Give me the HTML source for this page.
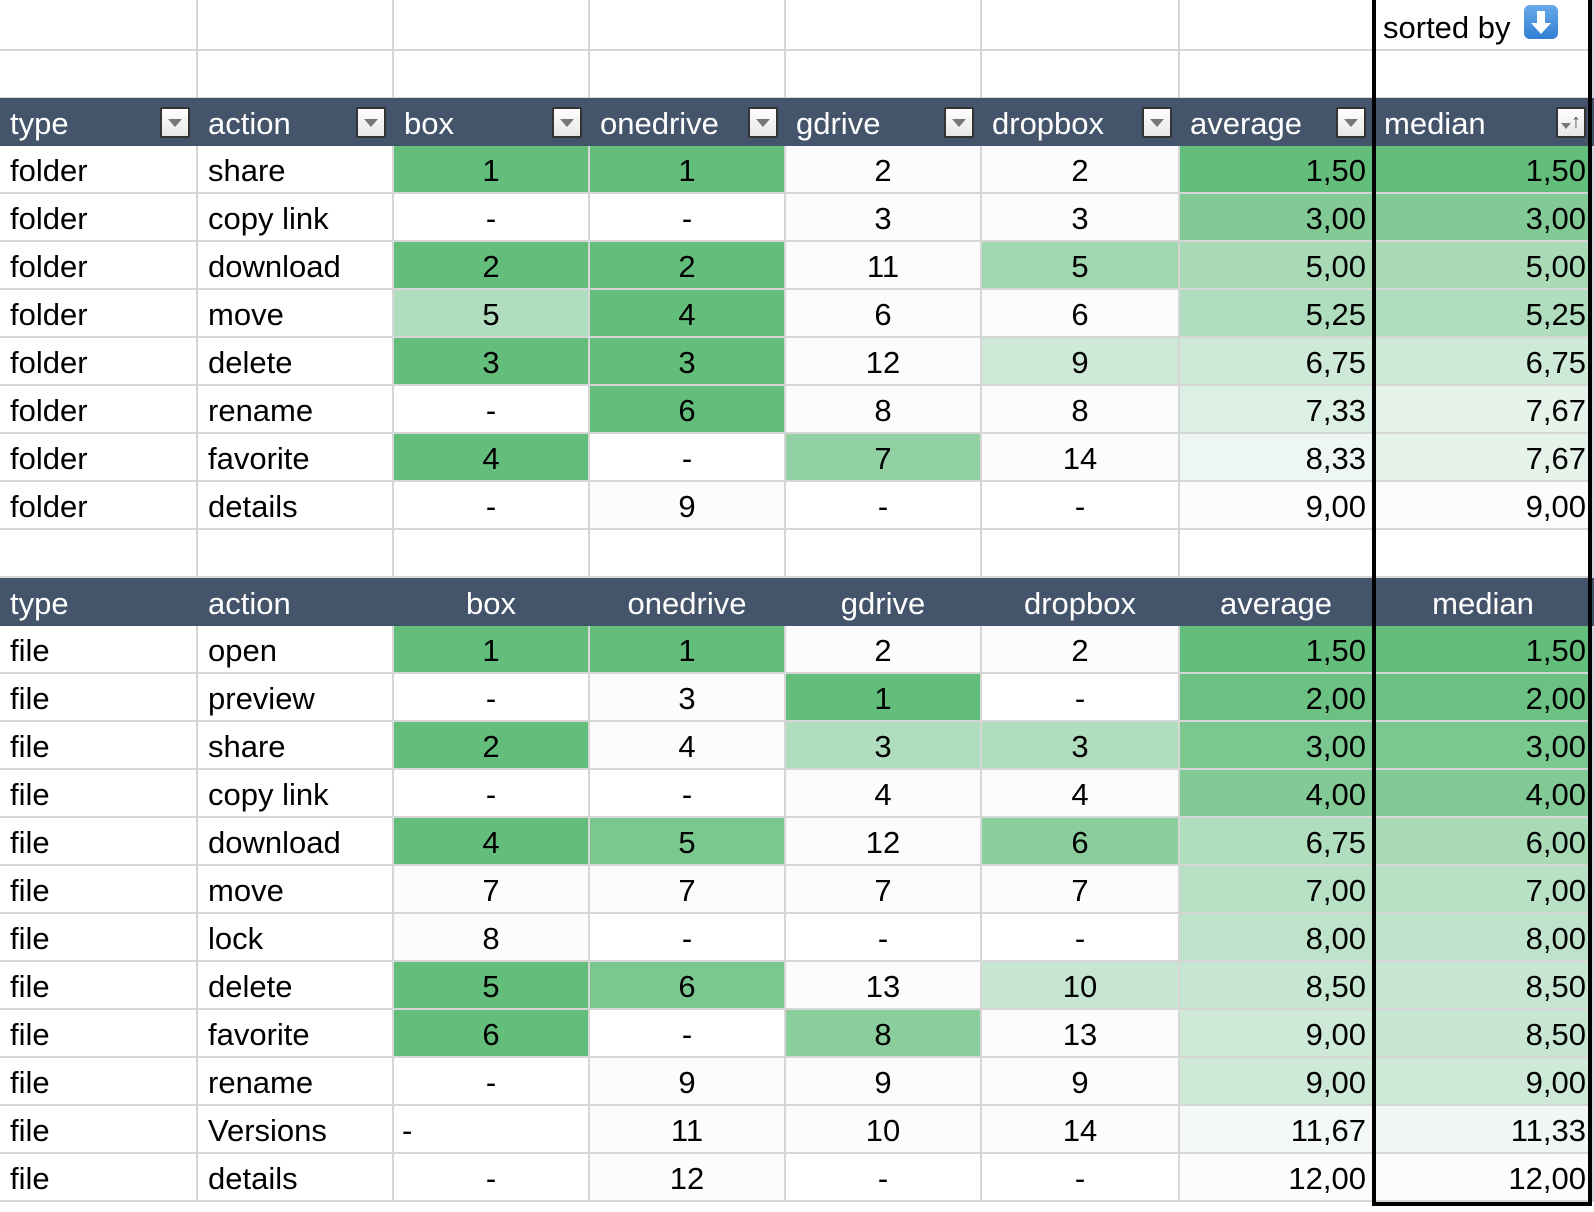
<!DOCTYPE html>
<html><head><meta charset="utf-8">
<style>
body{margin:0;width:1594px;height:1212px;background:#fff;overflow:hidden;font-family:"Liberation Sans",sans-serif;}
#sheet{position:absolute;left:0;top:0;width:1594px;height:1212px;}
.c{position:absolute;box-sizing:border-box;border-right:2px solid #d6d6d6;border-bottom:2px solid #d6d6d6;font-size:31px;line-height:50px;color:#000;white-space:nowrap;overflow:hidden;}
.h{background:#44546a;color:#fff;border-color:#44546a;}
.fb{position:absolute;width:30px;height:31px;top:9px;right:6px;box-sizing:border-box;border:2px solid #333;background:linear-gradient(#fff,#e6e6e6);border-radius:2px;}
.fb:after{content:"";position:absolute;left:6px;top:10px;border-left:7px solid transparent;border-right:7px solid transparent;border-top:8px solid #777;}
.fb.sort:after{left:3px;top:14px;border-left:5px solid transparent;border-right:5px solid transparent;border-top:6px solid #777;}
.fb.sort span{position:absolute;left:13px;top:0;font-size:20px;line-height:26px;color:#555;}
</style></head><body>
<div id="sheet"></div>
<div style="position:absolute;left:1383px;top:8px;font-size:31px;line-height:40px;">sorted by</div>
<div style="position:absolute;left:1524px;top:5px;width:34px;height:34px;border-radius:6px;background:linear-gradient(#6aa9e8,#2f7fd4);">
<svg width="34" height="34"><path d="M13 6h8v12h6l-10 11-10-11h6z" fill="#fff"/></svg></div>
<div style="position:absolute;left:1372px;top:0;width:220px;height:1206px;box-sizing:border-box;border:4px solid #000;border-top:none;"></div>
<script>
const headers=["type","action","box","onedrive","gdrive","dropbox","average","median"];
const folderActions=["share","copy link","download","move","delete","rename","favorite","details"];
const folderBox=["1","-","2","5","3","-","4","-"];
const folderOne=["1","-","2","4","3","6","-","9"];
const folderG=["2","3","11","6","12","8","7","-"];
const folderDrop=["2","3","5","6","9","8","14","-"];
const folderAvg=["1,50","3,00","5,00","5,25","6,75","7,33","8,33","9,00"];
const folderMed=["1,50","3,00","5,00","5,25","6,75","7,67","7,67","9,00"];
const folderShade=[[1,1,0,0,1,1],[-1,-1,0,0,.8,.8],[1,1,0,.6,.55,.55],[.5,1,0,0,.5,.5],[1,1,0,.3,.3,.3],[-1,1,0,0,.2,.15],[1,-1,.7,0,.1,.15],[-1,0,-1,-1,0,0]];
const fileActions=["open","preview","share","copy link","download","move","lock","delete","favorite","rename","Versions","details"];
const fileBox=["1","-","2","-","4","7","8","5","6","-","-","-"];
const fileOne=["1","3","4","-","5","7","-","6","-","9","11","12"];
const fileG=["2","1","3","4","12","7","-","13","8","9","10","-"];
const fileDrop=["2","-","3","4","6","7","-","10","13","9","14","-"];
const fileAvg=["1,50","2,00","3,00","4,00","6,75","7,00","8,00","8,50","9,00","9,00","11,67","12,00"];
const fileMed=["1,50","2,00","3,00","4,00","6,00","7,00","8,00","8,50","8,50","9,00","11,33","12,00"];
const fileShade=[[1,1,0,0,1,1],[-1,0,1,-1,.95,.95],[1,0,.5,.5,.85,.85],[-1,-1,0,0,.8,.8],[1,.85,0,.75,.5,.55],[0,0,0,0,.45,.45],[0,-1,-1,-1,.4,.4],[1,.85,0,.35,.35,.35],[1,-1,.75,0,.3,.35],[-1,0,0,0,.3,.3],[-1,0,0,0,.05,.08],[-1,0,-1,-1,0,0]];
const colX=[0,198,394,590,786,982,1180,1374,1594];
const RH=48;
const sheet=document.getElementById('sheet');
function shade(t){if(t<0)return"#ffffff";const a=[99,190,123],b=[252,252,255];return"rgb("+a.map((v,i)=>Math.round(b[i]+(v-b[i])*t)).join(",")+")";}
function cell(ci,y,text,cls,align,bg){const d=document.createElement('div');


d.className='c '+(cls||'');d.style.left=colX[ci]+'px';d.style.top=y+'px';d.style.width=(colX[ci+1]-colX[ci])+'px';d.style.height=(y===0?51:RH)+'px';
d.style.textAlign=align||'left';d.style.padding=align==='right'?'0 6px 0 0':(align==='center'?'0':'0 0 0 10px');
if(bg)d.style.background=bg;d.textContent=text;sheet.appendChild(d);return d;}
for(let c=0;c<8;c++){cell(c,0,"");cell(c,51,"");}
for(let c=0;c<8;c++){const d=cell(c,98,headers[c],'h','left');d.style.lineHeight='52px';
const b=document.createElement('div');b.className='fb'+(c===7?' sort':'');


if(c===7){const s=document.createElement('span');s.textContent='↑';b.appendChild(s);}
d.appendChild(b);}
function table(y0,type,acts,cols,sh){for(let r=0;r<acts.length;r++){const y=y0+r*RH;
cell(0,y,type);cell(1,y,acts[r]);
for(let k=0;k<6;k++){const al=k<4?'center':'right';let t=cols[k][r];
const d=cell(k+2,y,t,'',al,shade(sh[r][k]));
if(type==='file'&&k===0&&acts[r]==='Versions'){d.style.textAlign='left';d.style.padding='0 0 0 8px';}}}}
table(146,'folder',folderActions,[folderBox,folderOne,folderG,folderDrop,folderAvg,folderMed],folderShade);
for(let c=0;c<8;c++)cell(c,530,"");
for(let c=0;c<8;c++){const d=cell(c,578,headers[c],'h',c<2?'left':'center');d.style.lineHeight='52px';}
table(626,'file',fileActions,[fileBox,fileOne,fileG,fileDrop,fileAvg,fileMed],fileShade);
</script>
</body></html>
